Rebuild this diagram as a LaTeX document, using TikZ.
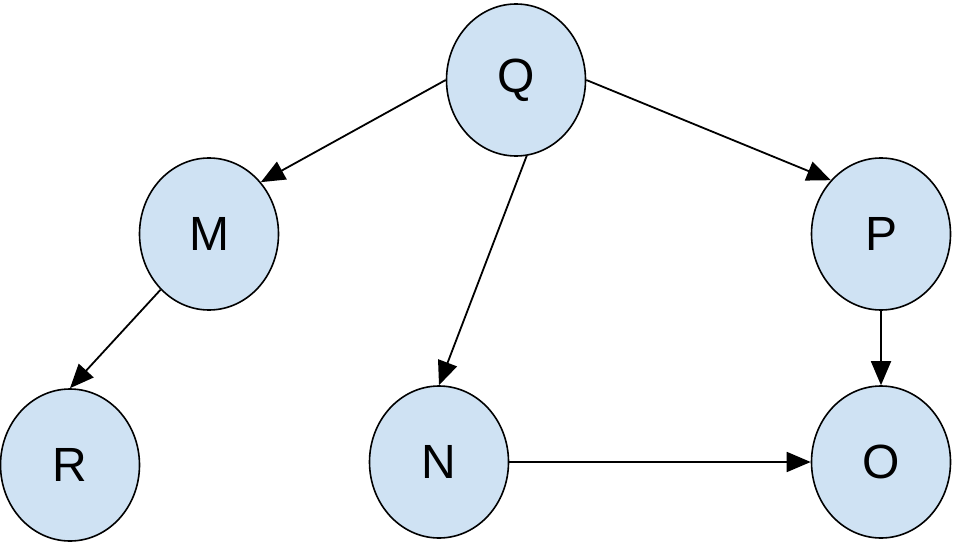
\documentclass[tikz,border=0pt]{standalone}
\usepackage{fontspec}
\setmainfont{Liberation Sans}
\usetikzlibrary{shapes.geometric,arrows.meta}
\definecolor{nodefill}{HTML}{CFE2F3}
\begin{document}
\begin{tikzpicture}[x=1pt,y=-1pt,
  vert/.style={ellipse,draw=black,line width=1.6pt,fill=nodefill,minimum width=139pt,minimum height=152pt,inner sep=0pt,font=\fontsize{48}{48}\selectfont},
  edge/.style={line width=1.8pt,-{Triangle[length=24pt,width=20pt]}}]
\useasboundingbox (0,0) rectangle (957,545);
\node[vert] (Q) at (516,80) {Q};
\node[vert] (M) at (209,234) {M};
\node[vert] (P) at (881,234) {P};
\node[vert] (R) at (70,465) {R};
\node[vert] (N) at (439,462) {N};
\node[vert] (O) at (881,462) {O};
\draw[edge] (Q.west) -- (M.45);
\draw[edge] (Q.-82) -- (N.north);
\draw[edge] (Q.east) -- (P.133);
\draw[edge] (M.-131) -- (R.north);
\draw[edge] (P) -- (O);
\draw[edge] (N) -- (O);
\end{tikzpicture}
\end{document}
